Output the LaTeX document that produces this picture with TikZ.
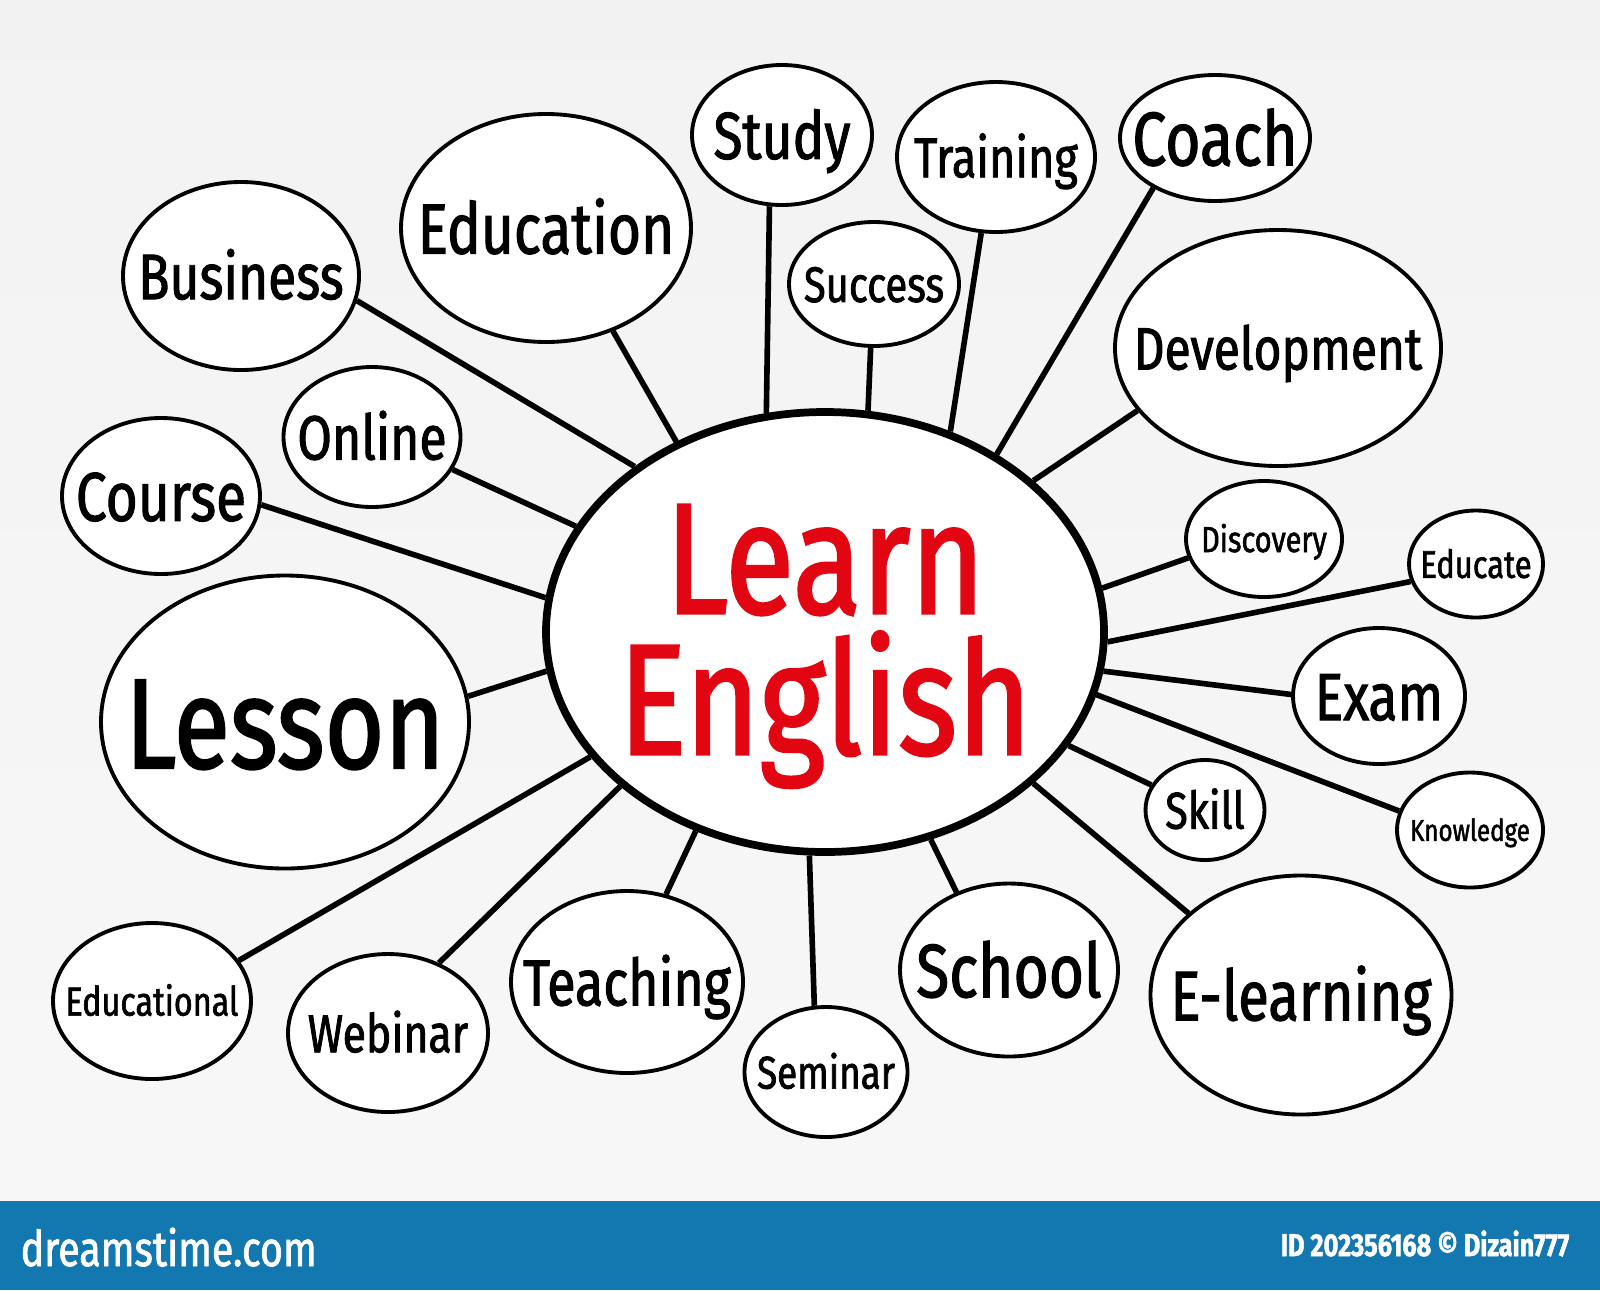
\documentclass[tikz,border=0pt]{standalone}
\usepackage{fontspec}
\setmainfont{Fira Sans}[FakeStretch=0.8, FakeBold=1.5]
\usetikzlibrary{shapes.geometric}

\definecolor{learnred}{RGB}{226,6,19}
\definecolor{barblue}{RGB}{19,120,176}

% text that does not widen its bubble
\newcommand\bubtext[1]{\makebox[0pt]{\raisebox{-0.36em}[0pt][0pt]{#1}}}

\begin{document}
\begin{tikzpicture}[x=1cm, y=1cm,
    bubble/.style n args={3}{ellipse, draw, line width=1.1pt, fill=white, inner sep=0pt,
        minimum width=#1cm, minimum height=#2cm, font=\fontsize{#3}{#3}\selectfont},
    link/.style={line width=1.6pt}]
            % Frame
            \useasboundingbox (0,0) rectangle (16,-12.9);
            \shade[top color=black!5, middle color=white, bottom color=black!3] (0,0) rectangle (16,-12.01);

            % Centre
            \node[ellipse, draw, line width=2.2pt, fill=white, inner sep=0pt,
                  minimum width=5.58cm, minimum height=4.40cm,
                  text=learnred, font=\fontsize{45}{40}\selectfont]
                  (learn) at (8.25,-6.32)
                  {\makebox[0pt]{\raisebox{-11.5pt}[0pt][0pt]{\begin{tabular}[c]{@{}c@{}}Learn\\[-7pt]English\end{tabular}}}};

            % Branches
            \node[bubble={2.36}{1.88}{18.3}] (business) at (2.41,-2.76) {\bubtext{Business}};
            \node[bubble={2.90}{2.28}{20.2}] (education) at (5.46,-2.28) {\bubtext{Education}};
            \node[bubble={1.80}{1.40}{18.9}] (study) at (7.82,-1.35) {\bubtext{Study}};
            \node[bubble={1.70}{1.24}{14.2}] (success) at (8.74,-2.84) {\bubtext{Success}};
            \node[bubble={1.98}{1.50}{16}] (training) at (9.96,-1.57) {\bubtext{Training}};
            \node[bubble={1.90}{1.26}{21.6}] (coach) at (12.15,-1.38) {\bubtext{Coach}};
            \node[bubble={3.26}{2.36}{17}] (development) at (12.78,-3.48) {\bubtext{Development}};
            \node[bubble={1.77}{1.40}{17.8}] (online) at (3.72,-4.37) {\bubtext{Online}};
            \node[bubble={1.98}{1.56}{19.6}] (course) at (1.61,-4.96) {\bubtext{Course}};
            \node[bubble={3.68}{2.93}{36.5}] (lesson) at (2.85,-7.22) {\bubtext{Lesson}};
            \node[bubble={1.56}{1.16}{10.3}] (discovery) at (12.64,-5.39) {\bubtext{Discovery}};
            \node[bubble={1.34}{1.07}{11}] (educate) at (14.76,-5.64) {\bubtext{Educate}};
            \node[bubble={1.72}{1.36}{19}] (exam) at (13.79,-6.96) {\bubtext{Exam}};
            \node[bubble={1.19}{1.00}{14.7}] (skill) at (12.05,-8.10) {\bubtext{Skill}};
            \node[bubble={1.46}{1.15}{8.6}] (knowledge) at (14.70,-8.30) {\bubtext{Knowledge}};
            \node[bubble={3.01}{2.39}{20}] (elearning) at (13.01,-9.95) {\bubtext{E-learning}};
            \node[bubble={2.18}{1.73}{21.5}] (school) at (10.09,-9.70) {\bubtext{School}};
            \node[bubble={1.63}{1.30}{13.1}] (seminar) at (8.26,-10.72) {\bubtext{Seminar}};
            \node[bubble={2.32}{1.82}{18.5}] (teaching) at (6.27,-9.82) {\bubtext{Teaching}};
            \node[bubble={2.00}{1.58}{15.2}] (webinar) at (3.88,-10.33) {\bubtext{Webinar}};
            \node[bubble={1.98}{1.56}{11.5}] (educational) at (1.52,-10.01) {\bubtext{Educational}};

            % Links
            \draw [link] (business.348) -- (learn.139);
            \draw [link] (education.303) -- (learn.128);
            \draw [link] (study.260) -- (learn.105);
            \draw [link] (success.267) -- (learn.79);
            \draw [link] (training.259) -- (learn.58);
            \draw [link] (coach.219) -- (learn.46);
            \draw [link] (development.204) -- (learn.36);
            \draw [link] (discovery.194) -- (learn.9);
            \draw [link] (educate.195) -- (learn.358);
            \draw [link] (exam.179) -- (learn.352);
            \draw [link] (knowledge.165) -- (learn.347);
            \draw [link] (skill.155) -- (learn.335);
            \draw [link] (elearning.144) -- (learn.324);
            \draw [link] (school.124) -- (learn.297);
            \draw [link] (seminar.100) -- (learn.266);
            \draw [link] (teaching.66) -- (learn.237);
            \draw [link] (webinar.54) -- (learn.217);
            \draw [link] (educational.25) -- (learn.208);
            \draw [link] (lesson.8) -- (learn.188);
            \draw [link] (course.355) -- (learn.173);
            \draw [link] (online.338) -- (learn.157);

            % Footer
            \fill [barblue] (0,-12.01) rectangle (16,-12.9);
            \node [anchor=base west, text=white, inner sep=0pt, font=\fontsize{14}{14}\selectfont] (site) at (0.20,-12.66) {dreamstime.com};
            \node [anchor=base east, text=white, inner sep=0pt, font=\bfseries\fontsize{9}{9}\selectfont] (stockid) at (15.70,-12.56) {ID 202356168 © Dizain777};
        \end{tikzpicture}
\end{document}
